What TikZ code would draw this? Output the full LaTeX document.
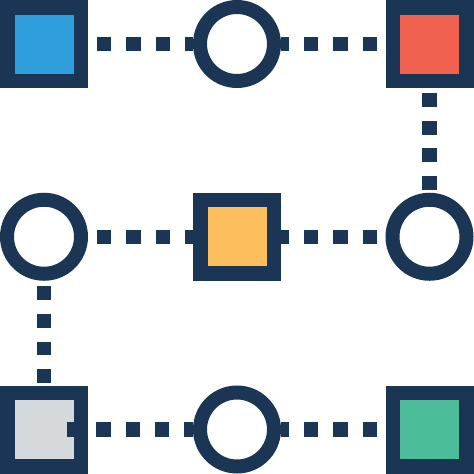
\documentclass[tikz,border=0pt]{standalone}
\definecolor{navy}{HTML}{1B3555}
\definecolor{cblue}{HTML}{2E9FDC}
\definecolor{cred}{HTML}{F16150}
\definecolor{corange}{HTML}{FDBE5E}
\definecolor{cgray}{HTML}{D6D9DC}
\definecolor{cgreen}{HTML}{4CBD98}
\begin{document}
\begin{tikzpicture}[x=1pt,y=-1pt,
  sq/.style={draw=navy,line width=14.5pt,rectangle,minimum size=73.5pt,inner sep=0pt},
  ring/.style={draw=navy,line width=14pt,circle,minimum size=74pt,inner sep=0pt,fill=white},
  hdash/.style={draw=navy,line width=14.5pt,dash pattern=on 14.3pt off 15pt},
  vdash/.style={draw=navy,line width=14.5pt,dash pattern=on 13.8pt off 13.9pt}]
\useasboundingbox[fill=white] (0,0) rectangle (474,474);
% nodes
\node[sq,fill=cblue]   (tl) at (44,44) {};
\node[ring]            (tc) at (237,44) {};
\node[sq,fill=cred]    (tr) at (429.5,44) {};
\node[ring]            (ml) at (44,236.75) {};
\node[sq,fill=corange] (mc) at (237,236.75) {};
\node[ring]            (mr) at (429.5,236.75) {};
\node[sq,fill=cgray]   (bl) at (44,429.5) {};
\node[ring]            (bc) at (237,429.5) {};
\node[sq,fill=cgreen]  (br) at (429.5,429.5) {};
% connectors
\draw[hdash,dash phase=20.3pt] (tl.east) -- (tc.west);
\draw[hdash,dash phase=6.3pt]  (tc.east) -- (tr.west);
\draw[hdash,dash phase=20.3pt] (ml.east) -- (mc.west);
\draw[hdash,dash phase=6.3pt]  (mc.east) -- (mr.west);
\coordinate (blnub) at ([xshift=-21pt]bl.east);
\draw[hdash,dash phase=0pt]    (blnub) -- (bc.west);
\draw[hdash,dash phase=6.3pt]  (bc.east) -- (br.west);
\draw[vdash,dash phase=22.7pt] (tr.south) -- (mr.north);
\draw[vdash,dash phase=22.2pt] (ml.south) -- (bl.north);
\end{tikzpicture}
\end{document}
